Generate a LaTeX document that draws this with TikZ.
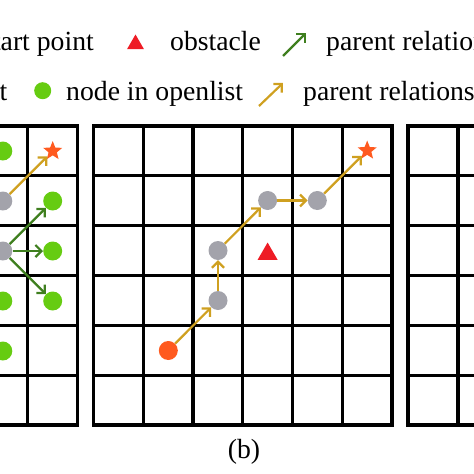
\documentclass[tikz,border=0pt]{standalone}
\usepackage{fontspec}
\setmainfont{Liberation Serif}
\usetikzlibrary{shapes.geometric,arrows.meta}
\definecolor{goldarrow}{HTML}{CFA020}
\definecolor{dgreen}{HTML}{3F7F1F}
\definecolor{lgreen}{HTML}{66CC11}
\definecolor{orng}{HTML}{FF5A1F}
\definecolor{gry}{HTML}{A3A3AB}
\definecolor{obsred}{HTML}{EE1C25}
\tikzset{
  gridline/.style={line width=3.2pt, black, line cap=rect},
  dot/.style={circle, inner sep=0pt, minimum size=19pt},
  opennode/.style={dot, fill=lgreen},
  closenode/.style={dot, fill=gry},
  startnode/.style={dot, fill=orng},
  goalnode/.style={star, star points=5, star point ratio=2.3, fill=orng, inner sep=0pt, minimum size=20pt},
  obst/.style={regular polygon, regular polygon sides=3, fill=obsred, inner sep=0pt},
  parentgold/.style={-{Straight Barb[length=6pt,width=12pt]}, line width=2.2pt, goldarrow},
  parentgreen/.style={-{Straight Barb[length=6pt,width=12pt]}, line width=2.2pt, dgreen},
  legtext/.style={inner sep=0pt, font=\fontsize{27.7pt}{30pt}\selectfont}
}
\begin{document}
\begin{tikzpicture}[x=1pt,y=-1pt]
\useasboundingbox (0,0) rectangle (474,474);
\clip (0,0) rectangle (474,474);
% ---- grids ----
% middle grid
\foreach \i in {0,...,6} {
  \draw[gridline] ({93.5+49.75*\i},126) -- ({93.5+49.75*\i},425);
  \draw[gridline] (93.5,{126+49.83*\i}) -- (392,{126+49.83*\i});
}
% left grid
\foreach \xx in {-22,27.7,77.7} \draw[gridline] (\xx,126) -- (\xx,425);
\foreach \i in {0,...,6} \draw[gridline] (-22,{126+49.83*\i}) -- (77.7,{126+49.83*\i});
% right grid
\foreach \xx in {408,458,508} \draw[gridline] (\xx,126) -- (\xx,425);
\foreach \i in {0,...,6} \draw[gridline] (408,{126+49.83*\i}) -- (508,{126+49.83*\i});

% ---- left grid content ----
\node[opennode] (L11) at (2.8,151) {};
\node[goalnode] (Lg) at (52.7,151) {};
\node[closenode] (L21) at (2.8,201) {};
\node[opennode] (L22) at (52.7,201) {};
\node[closenode] (L31) at (2.8,251) {};
\node[opennode] (L32) at (52.7,251) {};
\node[opennode] (L41) at (2.8,301) {};
\node[opennode] (L42) at (52.7,301) {};
\node[opennode] (L51) at (2.8,351) {};
\draw[parentgold] (L21) -- (Lg);
\draw[parentgreen] (L31) -- (L22);
\draw[parentgreen] (L31) -- (L32);
\draw[parentgreen] (L31) -- (L42);

% ---- middle grid content ----
\node[startnode] (S) at (168.3,350.5) {};
\node[closenode] (M1) at (218,300.5) {};
\node[closenode] (M2) at (218,250.5) {};
\node[closenode] (M3) at (267.6,200.5) {};
\node[closenode] (M4) at (317.3,200.5) {};
\node[goalnode] (G) at (367.2,150.5) {};
\node[obst, minimum size=23pt] (O) at (267.6,254) {};
\draw[parentgold] (S) -- (M1);
\draw[parentgold] (M1) -- (M2);
\draw[parentgold] (M2) -- (M3);
\draw[parentgold] (M3) -- (M4);
\draw[parentgold] (M4) -- (G);

% ---- legend ----
\node[legtext, anchor=base east] (t1) at (94,50) {start point};
\node[obst, minimum size=19.6pt] (legobs) at (135.5,44.3) {};
\node[legtext, anchor=base west] (t2) at (170,50) {obstacle};
\coordinate (ga) at (283,56);
\coordinate (gb) at (306,33);
\draw[parentgreen] (ga) -- (gb);
\node[legtext, anchor=base west] (t3) at (326,50) {parent relationship};

\node[legtext, anchor=base east] (t4) at (7.5,100) {node in closelist};
\node[opennode, minimum size=17pt] (legopen) at (42.7,90.7) {};
\node[legtext, anchor=base west] (t5) at (66,100) {node in openlist};
\coordinate (oa) at (259,106);
\coordinate (ob) at (283,83);
\draw[parentgold] (oa) -- (ob);
\node[legtext, anchor=base west] (t6) at (303,100) {parent relationship};

% caption
\node[legtext, anchor=base] (cap) at (244,458) {(b)};
\end{tikzpicture}
\end{document}
